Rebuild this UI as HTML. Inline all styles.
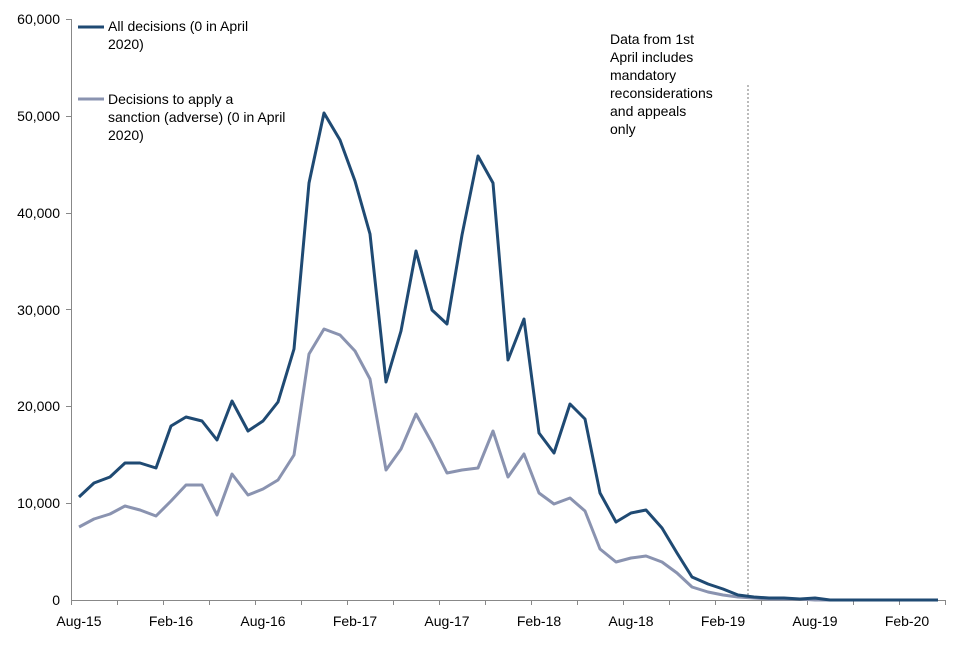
<!DOCTYPE html>
<html><head><meta charset="utf-8"><style>
html,body{margin:0;padding:0;background:#fff;}
svg text{font-family:"Liberation Sans",Arial,sans-serif;font-size:14px;fill:#000;}
</style></head><body>
<svg width="960" height="640" viewBox="0 0 960 640">
<g text-anchor="end">
<text x="60" y="605">0</text>
<text x="60" y="508">10,000</text>
<text x="60" y="411">20,000</text>
<text x="60" y="315">30,000</text>
<text x="60" y="218">40,000</text>
<text x="60" y="121">50,000</text>
<text x="60" y="24">60,000</text>
</g>
<g stroke="#888" stroke-width="1" fill="none">
<line x1="71.5" y1="19" x2="71.5" y2="600"/>
<line x1="66" y1="19.5" x2="71.5" y2="19.5"/>
<line x1="66" y1="116.5" x2="71.5" y2="116.5"/>
<line x1="66" y1="213.5" x2="71.5" y2="213.5"/>
<line x1="66" y1="309.5" x2="71.5" y2="309.5"/>
<line x1="66" y1="406.5" x2="71.5" y2="406.5"/>
<line x1="66" y1="503.5" x2="71.5" y2="503.5"/>
<line x1="71.5" y1="600.5" x2="946" y2="600.5"/>
<path d="M71.5 600v5M117.5 600v5M163.5 600v5M209.5 600v5M255.5 600v5M301.5 600v5M347.5 600v5M393.5 600v5M439.5 600v5M485.5 600v5M531.5 600v5M577.5 600v5M623.5 600v5M669.5 600v5M715.5 600v5M761.5 600v5M807.5 600v5M853.5 600v5M899.5 600v5M945.5 600v5"/>
</g>
<g text-anchor="middle">
<text x="79" y="626">Aug-15</text>
<text x="171" y="626">Feb-16</text>
<text x="263" y="626">Aug-16</text>
<text x="355" y="626">Feb-17</text>
<text x="447" y="626">Aug-17</text>
<text x="539" y="626">Feb-18</text>
<text x="631" y="626">Aug-18</text>
<text x="723" y="626">Feb-19</text>
<text x="815" y="626">Aug-19</text>
<text x="907" y="626">Feb-20</text>
</g>
<line x1="748" y1="85" x2="748" y2="600" stroke="#777" stroke-width="1" stroke-dasharray="2,2"/>
<polyline fill="none" stroke="#8a93b0" stroke-width="3" stroke-linejoin="round" points="79,527 94,519 110,514 125,506 140,510 156,516 171,501 186,485 202,485 217,515 232,474 248,495 263,489 278,480 294,455 309,354 324,329 340,335 355,351 370,379 386,470 401,449 416,414 432,443 447,473 462,470 478,468 493,431 508,477 524,454 539,493 554,504 570,498 585,511 600,549 616,562 631,558 646,556 662,562 677,573 692,587 708,592 723,595 738,597 754,598 769,599 784,599 800,599 815,600 830,600 846,600 861,600 876,600 892,600 907,600 922,600 938,600"/>
<polyline fill="none" stroke="#1f4a73" stroke-width="3" stroke-linejoin="round" points="79,497 94,483 110,477 125,463 140,463 156,468 171,426 186,417 202,421 217,440 232,401 248,431 263,421 278,402 294,349 309,183 324,113 340,140 355,181 370,234 386,382 401,331 416,251 432,310 447,324 462,235 478,156 493,183 508,360 524,319 539,433 554,453 570,404 585,419 600,493 616,522 631,513 646,510 662,528 677,553 692,577 708,584 723,589 738,595 754,597 769,598 784,598 800,599 815,598 830,600 846,600 861,600 876,600 892,600 907,600 922,600 938,600"/>
<line x1="78" y1="27" x2="104" y2="27" stroke="#1f4a73" stroke-width="3"/>
<text x="108" y="31">All decisions (0 in April</text>
<text x="108" y="49">2020)</text>
<line x1="78" y1="99" x2="104" y2="99" stroke="#8a93b0" stroke-width="3"/>
<text x="108" y="104">Decisions to apply a</text>
<text x="108" y="122">sanction (adverse) (0 in April</text>
<text x="108" y="140">2020)</text>
<text x="610" y="44">Data from 1st</text>
<text x="610" y="62">April includes</text>
<text x="610" y="80">mandatory</text>
<text x="610" y="98">reconsiderations</text>
<text x="610" y="116">and appeals</text>
<text x="610" y="134">only</text>
</svg>
</body></html>
